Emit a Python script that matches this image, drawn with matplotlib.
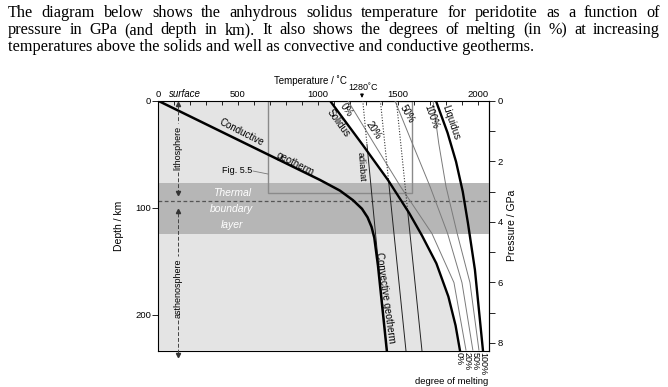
import matplotlib.pyplot as plt
from matplotlib.patches import Rectangle

# ---- data (temperature in deg C, depth in km) ----
solidus_T = [1075, 1278, 1437, 1570, 1650, 1740, 1815, 1860, 1887]
solidus_d = [0, 41, 74, 105, 126, 152, 183, 210, 233]

liquidus_T = [1737, 1810, 1863, 1905, 1937, 1981, 2031]
liquidus_d = [0, 30, 57, 85, 114, 158, 233]

melt20_T = [1187, 1350, 1515, 1712, 1850, 1925]
melt20_d = [0, 40, 80, 124, 170, 233]
melt50_T = [1481, 1590, 1700, 1810, 1900, 1968]
melt50_d = [0, 40, 80, 124, 170, 233]
melt100_T = [1719, 1755, 1800, 1870, 1950, 2006]
melt100_d = [0, 40, 80, 124, 170, 233]

conv_T = [0, 1012, 1137, 1219, 1275, 1310, 1335, 1352, 1375, 1430]
conv_d = [0, 74, 84, 93, 101, 109, 118, 128, 154, 233]

adiabat_top = [1280, 1390, 1490]
adiabat_cross = [41, 76, 104]  # depth where adiabat meets solidus
adiabat_bottom = [1430, 1550, 1650]

tbl_top, tbl_bottom, tbl_mid = 77, 124.6, 94
fig55_T = [690, 1590]
fig55_d = [0, 86]

melt_labels = ["0%", "20%", "50%", "100%"]
melt_label_T = [1881, 1931, 1981, 2031]

km_per_gpa = 28.3
T_max, d_max = 2069, 233.6

paragraph = [
    "The diagram below shows the anhydrous solidus temperature for peridotite as a function of",
    "pressure in GPa (and depth in km). It also shows the degrees of melting (in %) at increasing",
    "temperatures above the solids and well as convective and conductive geotherms.",
]

W, H = 668, 387
fig = plt.figure(figsize=(W / 100, H / 100), dpi=100)
renderer = fig.canvas.get_renderer()

serif = dict(family=["Liberation Serif", "DejaVu Serif"], fontsize=11.7, va="baseline")
sans = ["Liberation Sans", "DejaVu Sans"]


def place_line(text, y, x0, x1=None):
    # justified line of text in figure pixels
    if x1 is None:
        fig.text(x0 / W, 1 - y / H, text, **serif)
        return
    words = text.split()
    texts = [fig.text(0, 1 - y / H, w, **serif) for w in words]
    widths = [t.get_window_extent(renderer).width for t in texts]
    gap = (x1 - x0 - sum(widths)) / (len(words) - 1)
    x = x0
    for t, w in zip(texts, widths):
        t.set_x(x / W)
        x += w + gap


place_line(paragraph[0], 17, 8, 660)
place_line(paragraph[1], 34, 8, 660)
place_line(paragraph[2], 51, 8)

ax = fig.add_axes([158 / W, 1 - 350.7 / H, (489 - 158) / W, 250 / H])
ax.set_xlim(0, T_max)
ax.set_ylim(d_max, 0)

# background fields
ax.fill_betweenx(solidus_d, 0, solidus_T, color="#e4e4e4", lw=0, zorder=0)
ax.axhspan(tbl_top, tbl_bottom, color="#b6b6b6", lw=0, zorder=1)
ax.axhline(tbl_mid, color="#555555", lw=0.9, ls=(0, (3, 2)), zorder=2)
ax.add_patch(Rectangle((fig55_T[0], fig55_d[0]), fig55_T[1] - fig55_T[0],
                       fig55_d[1] - fig55_d[0], fill=False, ec="#8a8a8a",
                       lw=1.0, zorder=2))

# degree-of-melting lines
for T, d in [(melt20_T, melt20_d), (melt50_T, melt50_d), (melt100_T, melt100_d)]:
    ax.plot(T, d, color="#7a7a7a", lw=0.7, zorder=3)

# adiabats: dotted above solidus, solid below
for t0, dc, t1 in zip(adiabat_top, adiabat_cross, adiabat_bottom):
    tc = t0 + (t1 - t0) * dc / d_max
    ax.plot([t0, tc], [0, dc], color="#333333", lw=0.8, ls=(0, (1, 1.5)), zorder=3)
    ax.plot([tc, t1], [dc, d_max], color="#222222", lw=0.7, zorder=3)

ax.plot(solidus_T, solidus_d, color="black", lw=1.7, zorder=4)
ax.plot(liquidus_T, liquidus_d, color="black", lw=1.7, zorder=4)
ax.plot(conv_T, conv_d, color="black", lw=1.8, zorder=4)

# axes styling
for s in ax.spines.values():
    s.set_linewidth(0.8)
ax.xaxis.tick_top()
ax.set_xticks(range(0, 2001, 500))
ax.set_xticks(range(0, 2001, 100), minor=True)
ax.tick_params(axis="x", which="both", direction="in", length=3, width=0.6,
               labelsize=6.8, pad=1.5, top=True, bottom=False)
ax.set_yticks([0, 100, 200])
ax.tick_params(axis="y", direction="out", length=4, width=0.6, labelsize=6.8, pad=1)
for lab in ax.get_xticklabels() + ax.get_yticklabels():
    lab.set_family(sans)

sec = ax.secondary_yaxis("right", functions=(lambda d: d / km_per_gpa,
                                             lambda p: p * km_per_gpa))
sec.set_yticks([0, 2, 4, 6, 8])
sec.set_yticks([1, 3, 5, 7], minor=True)
sec.tick_params(which="both", direction="out", length=4, width=0.6,
                labelsize=6.8, pad=2)
sec.spines["right"].set_linewidth(0.8)
for lab in sec.get_yticklabels():
    lab.set_family(sans)

ax.set_ylabel("Depth / km", family=sans, fontsize=7.5, labelpad=8)
sec.set_ylabel("Pressure / GPa", family=sans, fontsize=7.5, labelpad=3)

txt = dict(family=sans, fontsize=7, zorder=5)
ax.text(955, -19, "Temperature / \u02daC", ha="center", va="center", clip_on=False, **txt)
ax.text(169, -6.5, "surface", ha="center", va="center", style="italic", clip_on=False, **txt)
ax.text(1280, -12, "1280\u02daC", ha="center", va="center", fontsize=6.5,
        family=sans, clip_on=False)
ax.annotate("", xy=(1275, 0), xytext=(1275, -9),
            arrowprops=dict(arrowstyle="-|>", lw=0.7, color="black",
                            mutation_scale=5), annotation_clip=False)

ax.text(520, 30, "Conductive", rotation=-27, ha="center", va="center", **txt)
ax.text(860, 59, "geotherm", rotation=-27, ha="center", va="center", **txt)
ax.text(1420, 184, "Convective geotherm", rotation=-82, ha="center", va="center", **txt)
ax.text(1125, 21, "Solidus", rotation=-54, ha="center", va="center", **txt)
ax.text(1175, 8.5, "0%", rotation=-54, ha="center", va="center", **txt)
ax.text(1350, 28, "20%", rotation=-56, ha="center", va="center", **txt)
ax.text(1556, 12, "50%", rotation=-60, ha="center", va="center", **txt)
ax.text(1706, 15, "100%", rotation=-70, ha="center", va="center", **txt)
ax.text(1831, 20, "Liquidus", rotation=-71, ha="center", va="center", **txt)
ax.text(1269, 62, "adiabat", rotation=-86, ha="center", va="center", fontsize=6.5,
        family=sans, zorder=5)

ax.text(494, 64.8, "Fig. 5.5", ha="center", va="center", fontsize=6.5, family=sans, zorder=5)
ax.plot([594, 687], [65.7, 68.5], color="#777777", lw=0.6, zorder=3)

for label, y in zip(["Thermal", "boundary", "layer"], [86.4, 101.2, 116]):
    ax.text(462, y, label, ha="center", va="center", color="white",
            style="italic", family=sans, fontsize=7.5, zorder=5)

# lithosphere / asthenosphere arrows
xa = 125
dash = dict(color="#444444", lw=0.7, ls=(0, (4, 2)), zorder=4, clip_on=False)
ax.plot([xa, xa], [4, 21], **dash)
ax.plot([xa, xa], [67, 84], **dash)
ax.plot([xa, xa], [105, 145], **dash)
ax.plot([xa, xa], [205, 236], **dash)
ax.plot([xa], [3], marker="^", ms=3, color="#333333", zorder=5, clip_on=False)
ax.plot([xa], [86], marker="v", ms=3, color="#333333", zorder=5, clip_on=False)
ax.plot([xa], [103], marker="^", ms=3, color="#333333", zorder=5, clip_on=False)
ax.plot([xa], [237.5], marker="v", ms=3, color="#333333", zorder=5, clip_on=False)
ax.text(xa, 44, "lithosphere", rotation=90, ha="center", va="center",
        family=sans, fontsize=6.5, zorder=5)
ax.text(xa, 175, "asthenosphere", rotation=90, ha="center", va="center",
        family=sans, fontsize=6.5, zorder=5)

for label, t in zip(melt_labels, melt_label_T):
    ax.text(t, 235, label, rotation=-90, rotation_mode="anchor", ha="left",
            va="center", family=sans, fontsize=6.5, clip_on=False)
ax.text(1837, 262, "degree of melting", ha="center", va="center",
        family=sans, fontsize=6.8, clip_on=False)

fig.savefig("out.png", dpi=100)
